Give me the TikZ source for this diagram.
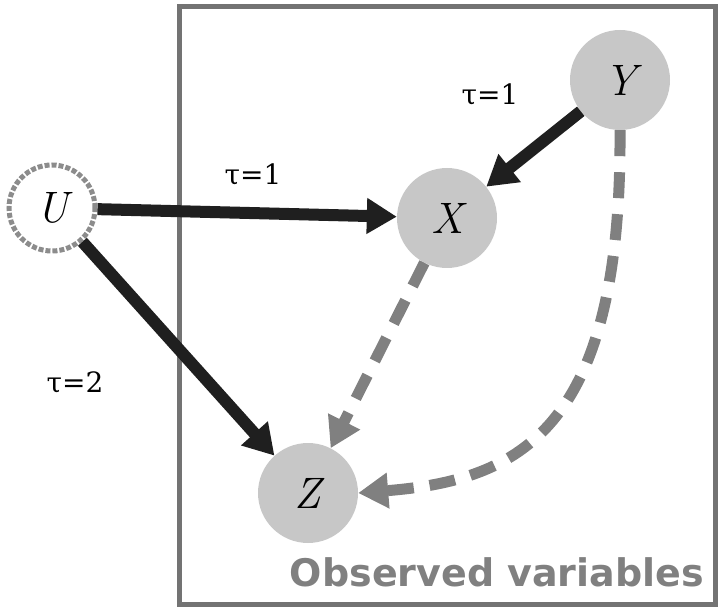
\documentclass[tikz,border=0pt]{standalone}
\usepackage{fontspec}
\newfontfamily\obsfont{DejaVu Sans}
\newfontfamily\taufont{DejaVu Serif}
\usetikzlibrary{arrows.meta}
\begin{document}
\begin{tikzpicture}[x=1pt,y=-1pt,
  var/.style={circle,fill=black!22,minimum size=100pt,inner sep=0pt,font=\fontsize{44}{48}\selectfont\itshape},
  hid/.style={circle,draw=black!45,dotted,line width=5pt,fill=white,minimum size=86pt,inner sep=0pt,font=\fontsize{44}{48}\selectfont\itshape},
  solidarr/.style={line width=12pt,-{Triangle[length=30pt,width=34pt]},black!88},
  dasharr/.style={line width=11pt,dash pattern=on 26pt off 16pt,-{Triangle[length=30pt,width=34pt]},black!50},
  lbl/.style={font=\taufont\fontsize{28}{32}\selectfont}]
\useasboundingbox (0,0) rectangle (723,612);
\node[draw=black!55,line width=5pt,minimum width=536pt,minimum height=598pt,inner sep=0pt] (box) at (447.5,305.5) {};
\node[var] (X) at (447,218) {X};
\node[var] (Y) at (620,80) {Y};
\node[var] (Z) at (308,493) {Z};
\node[hid] (U) at (52,208) {U};
\draw[solidarr] (U) -- (X);
\draw[solidarr] (U) -- (Z);
\draw[solidarr] (Y) -- (X);
\draw[dasharr] (X) -- (Z);
\draw[dasharr] (Y.south) .. controls (622,430) and (520,480) .. (Z.east);
\node[lbl] (t1) at (253,175) {τ=1};
\node[lbl] (t2) at (490,95) {τ=1};
\node[lbl] (t3) at (75,383) {τ=2};
\node[font=\obsfont\bfseries\fontsize{38}{42}\selectfont,text=black!50] (obs) at (497,572) {Observed variables};
\end{tikzpicture}
\end{document}
